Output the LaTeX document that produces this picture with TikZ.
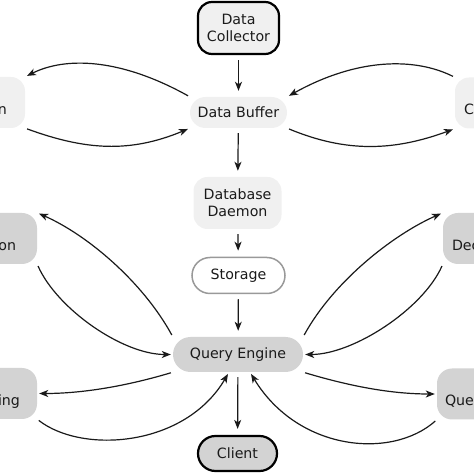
\documentclass[tikz,border=0pt]{standalone}
\usepackage{fontspec}
\setmainfont{DejaVu Sans}
\usetikzlibrary{arrows.meta}
\definecolor{lightfill}{HTML}{F0F0F0}
\definecolor{grayfill}{HTML}{D3D3D3}
\definecolor{txt}{HTML}{1A1A1A}
\definecolor{edgecol}{HTML}{1A1A1A}
\definecolor{storborder}{HTML}{999999}
\begin{document}
\begin{tikzpicture}[x=1pt,y=1pt,
  base/.style={inner sep=0pt, font=\fontsize{14.2}{17}\selectfont, text=txt, align=center},
  lightbox/.style={base, fill=lightfill, rounded corners=14pt},
  graybox/.style={base, fill=grayfill, rounded corners=15pt},
  sidebox/.style={minimum width=100pt, minimum height=51pt},
  thickborder/.style={draw=black, line width=2.2pt},
  conn/.style={line width=1.2pt, draw=edgecol, -{Stealth[length=9pt,width=7pt,inset=2.5pt]}},
  straight/.style={conn, shorten <=5pt, shorten >=6pt},
  curve/.style={conn, shorten <=2pt, shorten >=2pt}
]
\path[use as bounding box, clip] (0,0) rectangle (474,474);

% main column
\node[lightbox, thickborder, minimum width=81pt, minimum height=52pt] (coll) at (238.5,446) {Data\\Collector};
\node[lightbox, rounded corners=15.5pt, minimum width=97pt, minimum height=31pt] (buf) at (238.5,361.5) {Data Buffer};
\node[lightbox, minimum width=88pt, minimum height=52pt] (daem) at (237.5,271) {Database\\Daemon};
\node[base, fill=white, draw=storborder, line width=1.5pt, rounded corners=18pt, minimum width=93pt, minimum height=36pt] (stor) at (238.5,198.5) {Storage};
\node[graybox, rounded corners=17.5pt, minimum width=130pt, minimum height=35pt] (qe) at (238,119.5) {Query Engine};
\node[graybox, thickborder, rounded corners=17.5pt, minimum width=79pt, minimum height=35pt] (cli) at (237.5,20.5) {Client};

% side nodes (partly outside the picture)
\node[lightbox, sidebox, text width=64pt, align=right] (LT) at (-25,371.5) {\strut\\\strut n};
\node[lightbox, sidebox, text width=82pt, align=left] (RT) at (505,371) {\strut\\\strut C};
\node[graybox, sidebox, text width=58pt, align=right] (LM) at (-13,235.5) {\strut\\\strut on};
\node[graybox, sidebox, text width=82pt, align=left] (RM) at (493,235.5) {\strut\\\strut Dec};
\node[graybox, sidebox, text width=66pt, align=right] (LB) at (-13,80.5) {\strut\\\strut ing};
\node[graybox, sidebox, text width=84pt, align=left] (RB) at (487,80) {\strut\\\strut Que};

% straight arrows
\draw[straight] (coll) -- (buf);
\draw[straight] (buf) -- (daem);
\draw[straight] (daem) -- (stor);
\draw[straight] (stor) -- (qe);
\draw[straight] (qe) -- (cli);

% top pair
\draw[curve] (buf.north west) .. controls +(-70,39) and +(40,20) .. (LT.north east);
\draw[curve] (LT.south east) .. controls +(60,-22) and +(-60,-25) .. (buf.south west);
\draw[curve] (RT.north west) .. controls +(-40,20) and +(70,39) .. (buf.north east);
\draw[curve] (buf.south east) .. controls +(60,-25) and +(-60,-22) .. (RT.south west);

% middle pair
\draw[curve] (qe.north west) .. controls +(-30,55) and +(50,-22) .. (LM.north east);
\draw[curve] (LM.south east) .. controls +(20,-45) and +(-50,0) .. (qe.west);
\draw[curve] (qe.north east) .. controls +(30,55) and +(-50,-22) .. (RM.north west);
\draw[curve] (RM.south west) .. controls +(-20,-45) and +(50,0) .. (qe.east);

% bottom pair
\draw[curve] (qe.south west) .. controls +(-40,-12) and +(50,0) .. (LB.east);
\draw[curve] (LB.south east) .. controls +(45,-35) and +(-44,-75) .. ([xshift=-9pt]qe.south);
\draw[curve] (qe.south east) .. controls +(40,-12) and +(-50,0) .. (RB.west);
\draw[curve] (RB.south west) .. controls +(-45,-40) and +(48,-79) .. ([xshift=12pt]qe.south);
\end{tikzpicture}
\end{document}
